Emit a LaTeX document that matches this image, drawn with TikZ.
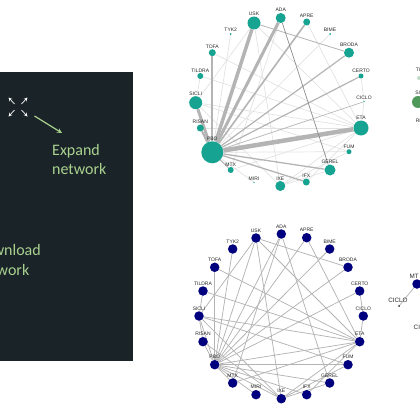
\documentclass[tikz,border=0pt]{standalone}
\usepackage{fontspec}
\setmainfont{Liberation Sans}
\newfontfamily\panelfont{Carlito}
\usetikzlibrary{arrows, backgrounds}
\definecolor{paneldark}{HTML}{1A2328}
\definecolor{panelgreen}{HTML}{A9D18E}
\definecolor{hubteal}{HTML}{17A392}
\definecolor{hubnavy}{HTML}{00007F}
\definecolor{hubgreen}{HTML}{4F9A5B}
\definecolor{linkgray}{HTML}{B4B4B4}
\definecolor{linklight}{HTML}{E2E2E2}
\tikzset{
  tealnode/.style={circle, fill=hubteal, inner sep=0pt, minimum size=#1},
  navynode/.style={circle, fill=hubnavy, inner sep=0pt, minimum size=9.5pt},
  genelabel/.style={font=\fontsize{5}{5.5}\selectfont, text=black!85, inner sep=0.6pt},
  sidelabel/.style={font=\fontsize{6.3}{7}\selectfont, text=black!85, inner sep=0pt},
  panellabel/.style={font=\panelfont\fontsize{16}{19.5}\selectfont, text=panelgreen, align=left, inner sep=0pt},
  weightlink/.style={draw=linkgray, line width=#1},
  lightlink/.style={draw=linklight, line width=0.7pt},
  navylink/.style={draw=linkgray, line width=0.75pt},
  iconarrow/.style={->, >=stealth, draw=white, line width=0.7pt},
}
\begin{document}
\begin{tikzpicture}[x=1pt, y=-1pt]
\useasboundingbox (0,0) rectangle (420,420);

% dark panel
\fill[paneldark] (0,72) rectangle (133,361);
\coordinate (iconmid) at (18,107);
\coordinate (iconnw) at (8.5,97.5);
\coordinate (iconne) at (27.5,97.5);
\coordinate (iconsw) at (8.5,116.5);
\coordinate (iconse) at (27.5,116.5);
\draw[iconarrow] ([shift={(-3.5,-3)}]iconmid) -- (iconnw);
\draw[iconarrow] ([shift={(3.5,-3)}]iconmid) -- (iconne);
\draw[iconarrow] ([shift={(-3.5,3)}]iconmid) -- (iconsw);
\draw[iconarrow] ([shift={(3.5,3)}]iconmid) -- (iconse);
\coordinate (expandfrom) at (34.5,116);
\coordinate (expandto) at (62,133);
\draw[->, >=stealth, draw=panelgreen, line width=1.2pt] (expandfrom) -- (expandto);
\node[panellabel, anchor=west] (expandtext) at (52,159.5) {Expand\\network};
\node[panellabel, anchor=east] (wnloadtext) at (41,250.5) {wnload};
\node[panellabel, anchor=east] (worktext) at (29.5,270) {work};

% top network
\node[tealnode=13pt, label={[genelabel]above:USK}] (uskA) at (254,23) {};
\node[tealnode=10pt, label={[genelabel]above:ADA}] (adaA) at (280.7,18) {};
\node[tealnode=7pt, label={[genelabel]above:APRE}] (apreA) at (306.7,22) {};
\node[tealnode=2pt, label={[genelabel]above:BIME}] (bimeA) at (330,34) {};
\node[tealnode=10pt, label={[genelabel]above:BRODA}] (brodaA) at (349,52.7) {};
\node[tealnode=5pt, label={[genelabel]above:CERTO}] (certoA) at (361,76) {};
\node[tealnode=1.5pt, label={[genelabel]above:CICLO}] (cicloA) at (364,101.7) {};
\node[tealnode=15pt, label={[genelabel]above:ETA}] (etaA) at (361,128) {};
\node[tealnode=5pt, label={[genelabel]above:FUM}] (fumA) at (349,151.7) {};
\node[tealnode=11pt, label={[genelabel]above:GEREL}] (gerelA) at (330,170) {};
\node[tealnode=7pt, label={[genelabel]above:IFX}] (ifxA) at (306.3,182) {};
\node[tealnode=10pt, label={[genelabel]above:IXE}] (ixeA) at (280.3,186) {};
\node[tealnode=1.5pt, label={[genelabel]above:MIRI}] (miriA) at (254,182.3) {};
\node[tealnode=6pt, label={[genelabel]above:MTX}] (mtxA) at (230.7,170) {};
\node[tealnode=22pt, label={[genelabel]above:PBO}] (pboA) at (212.3,152.3) {};
\node[tealnode=7pt, label={[genelabel]above:RISAN}] (risanA) at (200.3,128) {};
\node[tealnode=13pt, label={[genelabel]above:SICLI}] (sicliA) at (195.7,102.7) {};
\node[tealnode=6pt, label={[genelabel]above:TILDRA}] (tildraA) at (200.3,76) {};
\node[tealnode=7pt, label={[genelabel]above:TOFA}] (tofaA) at (212.3,52.7) {};
\node[tealnode=2pt, label={[genelabel]above:TYK2}] (tyktwoA) at (230.7,34) {};

% bottom network
\node[navynode, label={[genelabel]above:USK}] (uskB) at (256,238) {};
\node[navynode, label={[genelabel]above:ADA}] (adaB) at (281.3,234) {};
\node[navynode, label={[genelabel]above:APRE}] (apreB) at (306.7,237.7) {};
\node[navynode, label={[genelabel]above:BIME}] (bimeB) at (329.7,249) {};
\node[navynode, label={[genelabel]above:BRODA}] (brodaB) at (348,267.3) {};
\node[navynode, label={[genelabel]above:CERTO}] (certoB) at (359.7,291) {};
\node[navynode, label={[genelabel]above:CICLO}] (cicloB) at (363.3,316) {};
\node[navynode, label={[genelabel]above:ETA}] (etaB) at (359.7,341.7) {};
\node[navynode, label={[genelabel]above:FUM}] (fumB) at (348,364.7) {};
\node[navynode, label={[genelabel]above:GEREL}] (gerelB) at (329.7,383) {};
\node[navynode, label={[genelabel]above:IFX}] (ifxB) at (306.7,394.7) {};
\node[navynode, label={[genelabel]above:IXE}] (ixeB) at (281.3,398.7) {};
\node[navynode, label={[genelabel]above:MIRI}] (miriB) at (256,394.7) {};
\node[navynode, label={[genelabel]above:MTX}] (mtxB) at (232.7,383) {};
\node[navynode, label={[genelabel]above:PBO}] (pboB) at (214.7,364.7) {};
\node[navynode, label={[genelabel]above:RISAN}] (risanB) at (203,341.7) {};
\node[navynode, label={[genelabel]above:SICLI}] (sicliB) at (199,316) {};
\node[navynode, label={[genelabel]above:TILDRA}] (tildraB) at (203,291) {};
\node[navynode, label={[genelabel]above:TOFA}] (tofaB) at (214.7,267.3) {};
\node[navynode, label={[genelabel]above:TYK2}] (tyktwoB) at (232.7,249) {};

% cut off networks on the right
\node[genelabel, anchor=west] (tildraC) at (415,70) {TI};
\node[tealnode=4pt, fill=hubgreen!35] (tildraCdot) at (419,78) {};
\node[genelabel, anchor=west] (sicliClabel) at (414.5,92.7) {SI};
\node[tealnode=12pt, fill=hubgreen] (sicliC) at (418,102) {};
\node[genelabel, anchor=west] (risanC) at (415,120.7) {RI};
\node[navynode] (mtxD) at (417,284) {};
\node[sidelabel, anchor=west] (mtxDlabel) at (409.5,276) {MT};
\node[tealnode=2pt, fill=black!85] (cicloD) at (399,306) {};
\node[sidelabel] (cicloDlabel) at (398,300.5) {CICLO};
\node[sidelabel, anchor=west] (ciD) at (413.5,327) {CI};

\begin{pgfonlayer}{background}
% faint links of the top network
\draw[lightlink] (tofaA) -- (etaA);
\draw[lightlink] (tildraA) -- (etaA);
\draw[lightlink] (sicliA) -- (etaA);
\draw[lightlink] (sicliA) -- (fumA);
\draw[lightlink] (risanA) -- (etaA);
\draw[lightlink] (uskA) -- (etaA);
\draw[lightlink] (apreA) -- (etaA);
\draw[lightlink] (uskA) -- (ixeA);
\draw[lightlink] (adaA) -- (mtxA);
\draw[lightlink] (certoA) -- (cicloA);
\draw[lightlink] (cicloA) -- (etaA);
\draw[lightlink] (etaA) -- (mtxA);
\draw[lightlink] (etaA) -- (ixeA);
\draw[lightlink] (etaA) -- (ifxA);
\draw[lightlink] (fumA) -- (ixeA);
\draw[lightlink] (gerelA) -- (ixeA);
\draw[lightlink] (sicliA) -- (ixeA);
\draw[lightlink] (sicliA) -- (uskA);
\draw[lightlink] (bimeA) -- (pboA);
\draw[lightlink] (tyktwoA) -- (pboA);
\draw[lightlink] (tildraA) -- (sicliA);
\draw[lightlink] (fumA) -- (pboA);
\draw[lightlink] (miriA) -- (pboA);

% weighted links of the top network
\draw[weightlink=4.5pt] (pboA) -- (etaA);
\draw[weightlink=3.5pt] (pboA) -- (uskA);
\draw[weightlink=3pt] (pboA) -- (adaA);
\draw[weightlink=3pt] (pboA) -- (sicliA);
\draw[weightlink=2pt] (pboA) -- (risanA);
\draw[weightlink=1.6pt] (pboA) -- (apreA);
\draw[weightlink=1.8pt] (pboA) -- (tofaA);
\draw[weightlink=1.2pt] (pboA) -- (brodaA);
\draw[weightlink=1.2pt] (pboA) -- (certoA);
\draw[weightlink=0.7pt] (pboA) -- (cicloA);
\draw[weightlink=1.3pt] (pboA) -- (ifxA);
\draw[weightlink=1.3pt] (pboA) -- (gerelA);
\draw[weightlink=1pt] (pboA) -- (mtxA);
\draw[weightlink=0.8pt] (uskA) -- (brodaA);
\draw[weightlink=0.7pt, draw=black!45] (adaA) -- (gerelA);

% links of the bottom network
\draw[navylink] (pboB) -- (uskB);
\draw[navylink] (pboB) -- (adaB);
\draw[navylink] (pboB) -- (apreB);
\draw[navylink] (pboB) -- (bimeB);
\draw[navylink] (pboB) -- (brodaB);
\draw[navylink] (pboB) -- (certoB);
\draw[navylink] (pboB) -- (etaB);
\draw[navylink] (pboB) -- (fumB);
\draw[navylink] (pboB) -- (gerelB);
\draw[navylink] (pboB) -- (ifxB);
\draw[navylink] (pboB) -- (ixeB);
\draw[navylink] (pboB) -- (miriB);
\draw[navylink] (pboB) -- (mtxB);
\draw[navylink] (pboB) -- (risanB);
\draw[navylink] (pboB) -- (sicliB);
\draw[navylink] (pboB) -- (tofaB);
\draw[navylink] (pboB) -- (tyktwoB);
\draw[navylink] (uskB) -- (brodaB);
\draw[navylink] (uskB) -- (etaB);
\draw[navylink] (uskB) -- (ixeB);
\draw[navylink] (uskB) -- (sicliB);
\draw[navylink] (adaB) -- (gerelB);
\draw[navylink] (adaB) -- (mtxB);
\draw[navylink] (apreB) -- (etaB);
\draw[navylink] (tofaB) -- (etaB);
\draw[navylink] (tildraB) -- (etaB);
\draw[navylink] (tildraB) -- (sicliB);
\draw[navylink] (sicliB) -- (etaB);
\draw[navylink] (sicliB) -- (fumB);
\draw[navylink] (sicliB) -- (ixeB);
\draw[navylink] (sicliB) -- (risanB);
\draw[navylink] (risanB) -- (ixeB);
\draw[navylink] (certoB) -- (cicloB);
\draw[navylink] (cicloB) -- (etaB);
\draw[navylink] (etaB) -- (mtxB);
\draw[navylink] (etaB) -- (ixeB);
\draw[navylink] (etaB) -- (ifxB);
\draw[navylink] (fumB) -- (ixeB);
\draw[navylink] (gerelB) -- (ixeB);

% cut off link
\draw[navylink] (mtxD) -- (cicloD);
\end{pgfonlayer}
\end{tikzpicture}
\end{document}
